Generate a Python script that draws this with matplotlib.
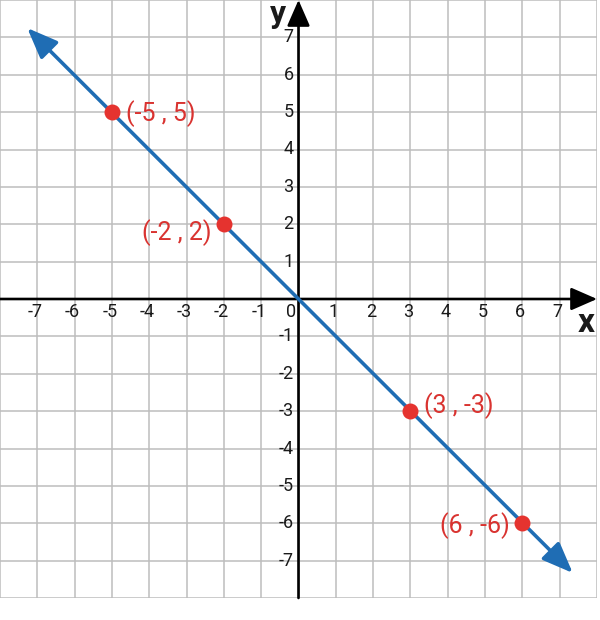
import matplotlib
matplotlib.use("Agg")
import matplotlib.pyplot as plt
import numpy as np

plt.rcParams['font.family'] = ['Roboto', 'DejaVu Sans']

# Data
points_x = [-5, -2, 3, 6]
points_y = [5, 2, -3, -6]
point_labels = ["(-5 , 5)", "(-2 , 2)", "(3 , -3)", "(6 , -6)"]
label_side = ["right", "left", "right", "left"]
label_dy = [-0.05, -0.22, 0.15, -0.07]
line_start = (-7.27, 7.25)
line_end = (7.35, -7.33)
x_ticks = [-7, -6, -5, -4, -3, -2, -1, 0, 1, 2, 3, 4, 5, 6, 7]
y_ticks = [-7, -6, -5, -4, -3, -2, -1, 1, 2, 3, 4, 5, 6, 7]
lim = 8

BLUE = "#1f6db4"
RED = "#e5332f"
RED_TXT = "#d93330"

fig = plt.figure(figsize=(6.0, 6.2), dpi=100)
ax = fig.add_axes([0.0, 22/620, 597/600, 598/620])
ax.set_xlim(-lim, lim)
ax.set_ylim(-lim, lim)
ax.set_xticks(np.arange(-lim, lim + 1))
ax.set_yticks(np.arange(-lim, lim + 1))
ax.grid(True, color="#bdbdbd", linewidth=1.1)
ax.tick_params(length=0, labelbottom=False, labelleft=False)
for s in ax.spines.values():
    s.set_visible(False)

# axes with arrows
ax.annotate("", xy=(lim, 0), xytext=(-lim, 0),
            arrowprops=dict(arrowstyle="-|>,head_length=0.8,head_width=0.35",
                            color="black", lw=1.9, shrinkA=0, shrinkB=0,
                            mutation_scale=20), zorder=3)
ax.annotate("", xy=(0, lim), xytext=(0, -lim),
            arrowprops=dict(arrowstyle="-|>,head_length=0.8,head_width=0.35",
                            color="black", lw=1.9, shrinkA=0, shrinkB=0,
                            mutation_scale=20), zorder=3)

# tick labels
for t in x_ticks:
    xx = t - 0.2 if t == 0 else t - 0.06
    ax.text(xx, -0.35, str(t), ha="center", va="center", fontsize=13,
            color="#1a1a1a", zorder=4)
for t in y_ticks:
    ax.text(-0.13, t, str(t), ha="right", va="center", fontsize=13,
            color="#1a1a1a", zorder=4)

# axis names
ax.text(7.72, -0.88, "x", ha="center", va="baseline", fontsize=24,
        fontweight="bold", color="#1a1a1a")
ax.text(-0.55, 7.38, "y", ha="center", va="baseline", fontsize=23,
        fontweight="bold", color="#1a1a1a")

# blue line with arrows on both ends
ax.annotate("", xy=line_end, xytext=line_start,
            arrowprops=dict(arrowstyle="<|-|>,head_length=0.75,head_width=0.3",
                            color=BLUE, lw=2.6, shrinkA=0, shrinkB=0,
                            mutation_scale=25), zorder=5)

# points
ax.plot(points_x, points_y, "o", color=RED, markersize=11.5, zorder=6,
        markeredgewidth=0)

for px, py, lab, side, dy in zip(points_x, points_y, point_labels, label_side, label_dy):
    if side == "right":
        ax.text(px + 0.37, py + dy, lab, ha="left", va="center", fontsize=18,
                color=RED_TXT, zorder=7)
    else:
        ax.text(px - 0.33, py + dy, lab, ha="right", va="center", fontsize=18,
                color=RED_TXT, zorder=7)

fig.savefig("out.png", dpi=100)
